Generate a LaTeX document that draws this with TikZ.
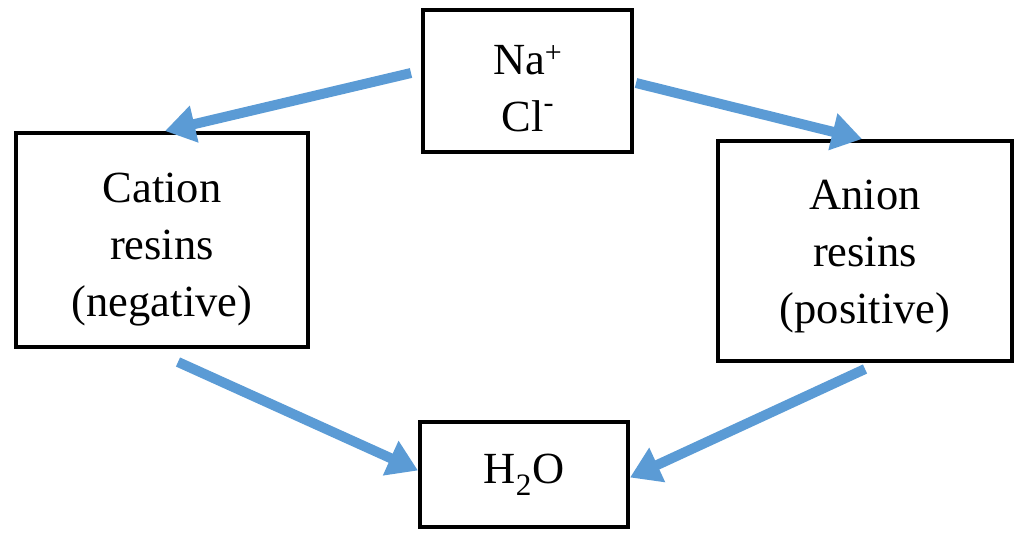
\documentclass[tikz,border=0pt]{standalone}
\usepackage{fontspec}
\setmainfont{Liberation Serif}
\usetikzlibrary{arrows.meta}
\definecolor{arrowblue}{HTML}{5B9BD5}
\newcommand{\supsym}[2]{\raisebox{#1}{\fontsize{30}{30}\selectfont #2}}
\tikzset{
  box/.style={draw=black, line width=4pt, rectangle, inner sep=0pt},
  txt/.style={inner sep=0pt, align=center, font=\fontsize{44.5}{57}\selectfont},
  arr/.style={draw=arrowblue, line width=10pt,
    -{Triangle[length=30pt,width=36pt]}, shorten >=0pt}
}
\begin{document}
\begin{tikzpicture}[x=1pt,y=-1pt]
\useasboundingbox (0,0) rectangle (1024,542);
\node[box, minimum width=209pt, minimum height=142pt] (nacl) at (527.5,81) {};
\node[box, minimum width=292pt, minimum height=214pt] (cation) at (162,240) {};
\node[box, minimum width=294pt, minimum height=220pt] (anion) at (865,251) {};
\node[box, minimum width=208pt, minimum height=105pt] (h2o) at (524,474.5) {};
\node[txt] (nacltxt) at ([yshift=-8pt]nacl.center) {Na\supsym{12pt}{+}\\Cl\supsym{19pt}{-}};
\node[txt] (cationtxt) at ([yshift=-10pt]cation.center) {Cation\\resins\\(negative)};
\node[txt] (aniontxt) at ([yshift=-5pt]anion.center) {Anion\\resins\\(positive)};
\node[txt] (h2otxt) at (h2o.center) {H\textsubscript{2}O};
\draw[arr] ([xshift=-10pt,yshift=8pt]nacl.west) -- ([xshift=3pt]cation.north);
\draw[arr] ([xshift=2pt,yshift=-2pt]nacl.east) -- ([xshift=-3pt]anion.north);
\draw[arr] ([xshift=16pt,yshift=-13pt]cation.south) -- ([yshift=4pt]h2o.west);
\draw[arr] ([yshift=-6pt]anion.south) -- ([yshift=-3pt]h2o.east);
\end{tikzpicture}
\end{document}
